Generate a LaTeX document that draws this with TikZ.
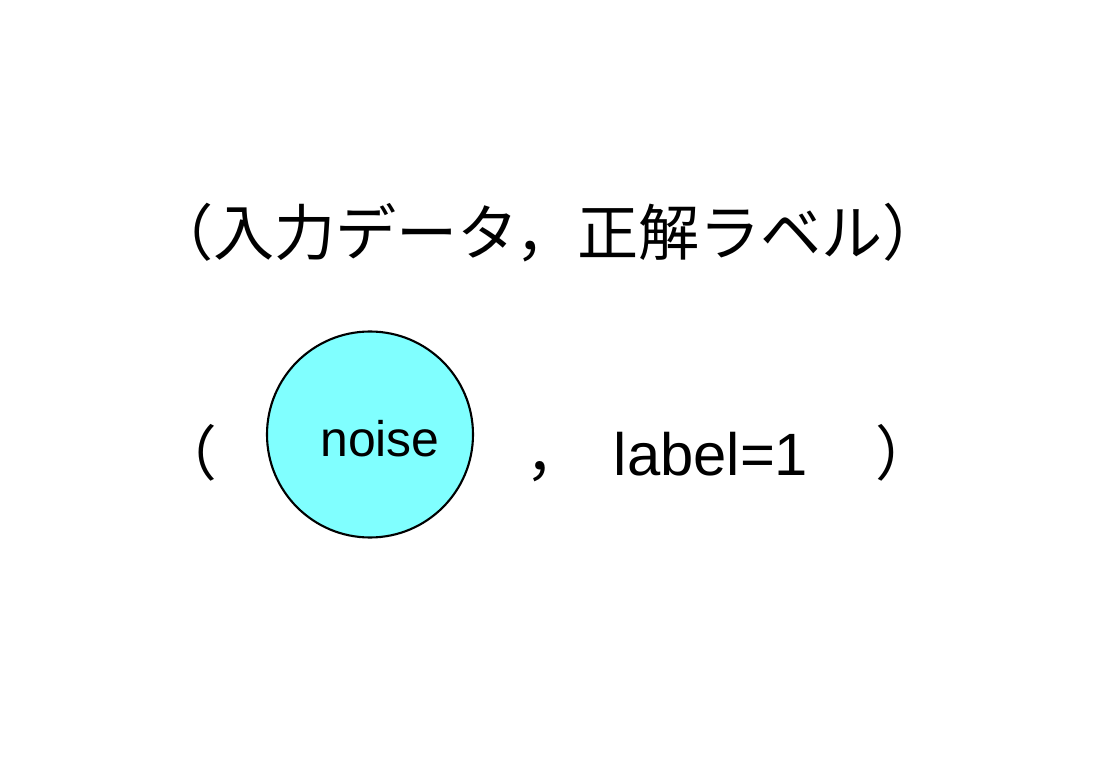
\documentclass[tikz,border=0pt]{standalone}
\usepackage{fontspec}
\setmainfont{Liberation Sans}
\newfontfamily\cjk{Noto Sans CJK JP}
\definecolor{ballcyan}{RGB}{128,255,255}
\begin{document}
\begin{tikzpicture}[x=1cm,y=1cm, font=\fontsize{17}{20}\selectfont, line join=round, line cap=round]
		\useasboundingbox (0,0) rectangle (11.16,7.73);
		\tikzset{ball/.style={circle, draw=black, line width=0.6pt, fill=ballcyan, minimum size=2.06cm, inner sep=0pt}}
		\node[font=\fontsize{17.4}{20}\selectfont] (title) at (5.48,5.40) {\cjk （入力データ，正解ラベル）};
		\node[ball] (ball) at (3.70,3.385) {};
		\node[anchor=base, font=\fontsize{14.2}{16}\selectfont] (noise) at (3.80,3.16) {noise};
		\node[anchor=base, inner sep=0pt] (lparen) at (1.87,2.97) {\cjk （};
		\node[anchor=base, inner sep=0pt] (comma) at (5.55,2.97) {\cjk ，};
		\node[anchor=base] (lab) at (7.11,2.97) {label=1};
		\node[anchor=base, inner sep=0pt] (rparen) at (9.05,2.97) {\cjk ）};
\end{tikzpicture}
\end{document}
